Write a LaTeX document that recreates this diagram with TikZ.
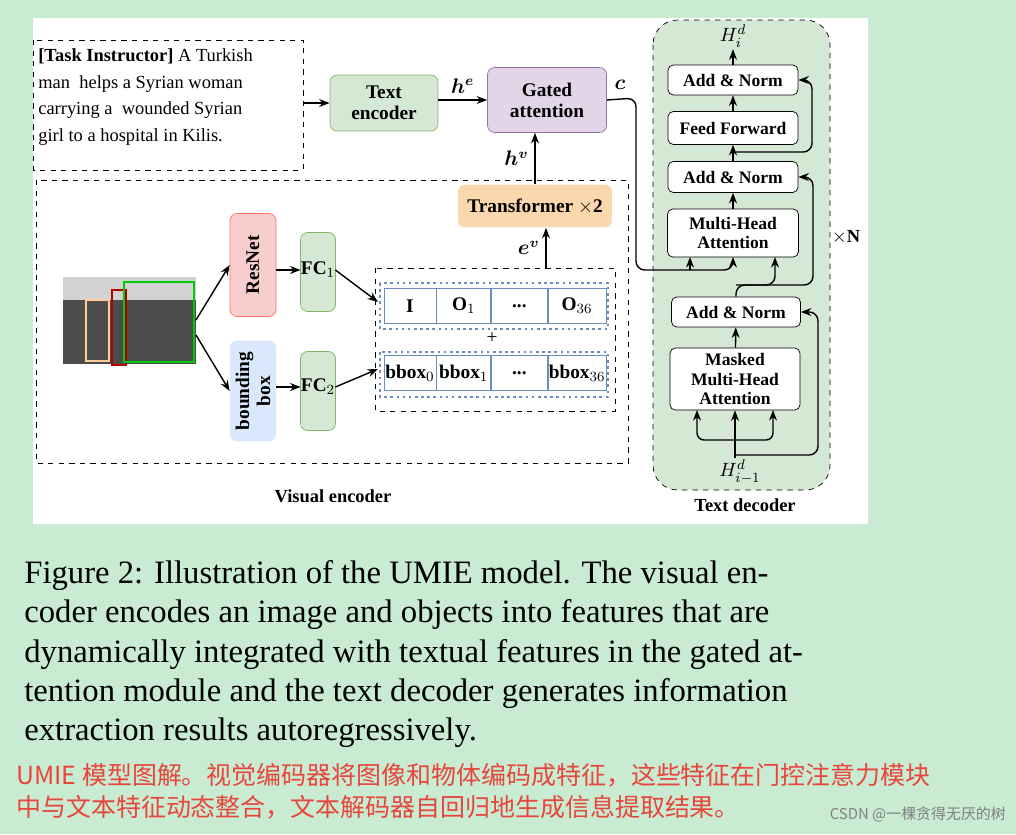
\documentclass[tikz,border=0pt]{standalone}
\usepackage{amsmath,bm}
\usepackage{fontspec}
\setmainfont{Liberation Serif}
\newfontfamily\cjk{Noto Sans CJK SC}
\usetikzlibrary{arrows.meta,positioning}
\definecolor{bggreen}{HTML}{C8EBD1}
\definecolor{gfill}{HTML}{D5E8D4}
\definecolor{gdraw}{HTML}{82B366}
\definecolor{pfill}{HTML}{E1D5E7}
\definecolor{pdraw}{HTML}{9673A6}
\definecolor{ofill}{HTML}{FAD7AC}
\definecolor{rfill}{HTML}{F8CECC}
\definecolor{rdraw}{HTML}{F8766A}
\definecolor{bfill}{HTML}{DAE8FC}
\definecolor{cellc}{HTML}{6C8EBF}
\definecolor{cnred}{HTML}{E8453C}
\tikzset{
  px/.style={x=0.02cm, y=-0.02cm},
  blk/.style={rounded corners=4pt, font=\bfseries\fontsize{11}{12}\selectfont, align=center, inner sep=0pt},
  dec/.style={draw, fill=white, rounded corners=3pt, font=\bfseries\fontsize{10}{11}\selectfont, align=center, inner sep=0pt},
  cell/.style={draw=cellc, minimum height=0.7cm, font=\bfseries\fontsize{11}{12}\selectfont, inner sep=0pt},
  arr/.style={-{Stealth[length=6pt]}, thick},
  lab/.style={font=\bfseries\itshape\fontsize{12}{12}\selectfont},
}
\begin{document}
\begin{tikzpicture}[px]
  % page
  \fill[bggreen] (0,0) rectangle (1016,834);
  \fill[white] (33,18) rectangle (868,524);

  % task instructor
  \draw[dashed] (33,40) rectangle (303,170);
  \node[anchor=north west, align=left, inner sep=0pt,
        font=\fontsize{10.5}{15.3}\selectfont] (task) at (38,48)
    {\textbf{[Task Instructor]} A Turkish\\man \ helps a Syrian woman\\carrying a \ wounded Syrian\\girl to a hospital in Kilis.};
  \coordinate (taske) at (303,103);

  % text side
  \node[blk, draw=gdraw, fill=gfill, minimum width=2.16cm, minimum height=1.12cm] (tenc) at (384,103) {Text\\encoder};
  \node[blk, draw=pdraw, fill=pfill, minimum width=2.38cm, minimum height=1.3cm] (gate) at (547,100) {Gated\\attention};
  \draw[arr] (taske) -- (tenc.west |- taske);
  \draw[arr] (tenc.east |- gate) -- (gate.west) node[lab, midway, above] {$\bm{h^e}$};
  \node[lab] at (620,85) {$\bm{c}$};

  % visual encoder
  \draw[dashed] (36,180) rectangle (628,463);
  \node[font=\bfseries\fontsize{10.5}{12}\selectfont] at (333,496) {Visual encoder};
  \node[blk, fill=ofill, minimum width=3.08cm, minimum height=0.86cm] (trans) at (535,206) {Transformer $\times$2};
  \draw[arr] (trans.north) -- (trans.north |- gate.south) node[lab, midway, left] {$\bm{h^v}$};

  % picture
  \fill[gray!60!black] (63,277) rectangle (196,364);
  \fill[gray!35] (63,277) rectangle (196,300);
  \draw[orange!40, thick] (86,300) rectangle (109,361);
  \draw[red!70!black, thick] (112,290) rectangle (126,365);
  \draw[green!80!black, thick] (124,282) rectangle (194,362);
  \coordinate (img1) at (196,320);
  \coordinate (img2) at (196,335);

  \node[blk, draw=rdraw, fill=rfill, minimum width=0.92cm, minimum height=2.06cm] (resnet) at (253,265) {};
  \node[rotate=90, blk] at (resnet) {ResNet};
  \node[blk, fill=bfill, minimum width=0.92cm, minimum height=2.02cm] (bbox) at (253,391) {};
  \node[rotate=90, blk] at (bbox) {bounding\\box};
  \node[blk, draw=gdraw, fill=gfill, minimum width=0.7cm, minimum height=1.58cm] (fc1) at (318,272) {};
  \node[blk, draw=gdraw, fill=gfill, minimum width=0.7cm, minimum height=1.58cm] (fc2) at (318,391) {};
  \node[blk] (fc1t) at (318,270) {FC$_1$};
  \node[blk] (fc2t) at (318,387) {FC$_2$};
  \draw[arr] (img1) -- (resnet.west);
  \draw[arr] (img2) -- (bbox.west);
  \draw[arr] (resnet.east |- fc1t) -- (fc1t.west);
  \draw[arr] (bbox.east |- fc2t) -- (fc2t.west);

  % features
  \draw[dashed] (375,268) rectangle (615,411);
  \draw[cellc, line width=1.5pt, dotted] (380,283) rectangle (608,329);
  \draw[cellc, line width=1.5pt, dotted] (380,352) rectangle (608,397);
  \node[cell, minimum width=1.04cm] (ci) at (410,306) {I};
  \node[cell, minimum width=1.08cm, right=0pt of ci] (co1) {O$_1$};
  \node[cell, minimum width=1.12cm, right=0pt of co1] (cd1) {...};
  \node[cell, minimum width=1.16cm, right=0pt of cd1] (co36) {O$_{36}$};
  \node[cell, minimum width=1.04cm] (cb0) at (410,373) {bbox$_0$};
  \node[cell, minimum width=1.08cm, right=0pt of cb0] (cb1) {bbox$_1$};
  \node[cell, minimum width=1.12cm, right=0pt of cb1] (cd2) {...};
  \node[cell, minimum width=1.16cm, right=0pt of cd2] (cb36) {bbox$_{36}$};
  \node[font=\fontsize{11}{11}\selectfont] (plus) at (492,338) {+};
  \coordinate (row1) at (378,302);
  \coordinate (row2) at (378,369);
  \coordinate (feat) at (546,268);
  \draw[arr] (fc1t.east) -- (row1);
  \draw[arr] (fc2t.east) -- (row2);
  \draw[arr] (feat) -- (feat |- trans.south) node[lab, midway, left] {$\bm{e^v}$};

  % text decoder
  \draw[dashed, fill=gfill, rounded corners=14pt] (653,20) rectangle (830,490);
  \node[font=\bfseries\fontsize{10.5}{12}\selectfont] at (745,505) {Text decoder};
  \node[font=\bfseries\fontsize{10.5}{12}\selectfont] at (846,237) {$\times$N};
  \node[font=\fontsize{11}{11}\selectfont, inner sep=1pt] (hout) at (733,36) {$H_i^d$};
  \node[font=\fontsize{11}{11}\selectfont, inner sep=1pt] (hin) at (740,472) {$H_{i-1}^d$};
  \node[dec, minimum width=2.6cm, minimum height=0.6cm] (an3) at (733,80) {Add \& Norm};
  \node[dec, minimum width=2.6cm, minimum height=0.66cm] (ff) at (733,128) {Feed Forward};
  \node[dec, minimum width=2.6cm, minimum height=0.62cm] (an2) at (733,177) {Add \& Norm};
  \node[dec, minimum width=2.62cm, minimum height=0.96cm] (mha) at (733,233) {Multi-Head\\Attention};
  \node[dec, minimum width=2.58cm, minimum height=0.6cm] (an1) at (736,312) {Add \& Norm};
  \node[dec, minimum width=2.6cm, minimum height=1.24cm] (mmha) at (735,379) {Masked\\Multi-Head\\Attention};

  \draw[arr] (an3) -- (hout);
  \draw[arr] (ff) -- (an3);
  \draw[arr] (an2) -- (ff);
  \draw[arr] (mha) -- (an2);
  \draw[arr] (mmha) -- (an1);
  \draw[arr] (hin.north -| mmha) -- (mmha.south);
  \draw[arr, rounded corners=4pt] (mmha.south |- 0,440) -| (697,410);
  \draw[arr, rounded corners=4pt] (mmha.south |- 0,440) -| (773,410);
  \draw[arr, rounded corners=5pt] (mmha.south |- 0,455) -| (818,312) -- (an1.east);
  \draw[arr, rounded corners=5pt] (gate.east) -- (636,98) |- (733,270) -- (733,257);
  \draw[arr] (690,270) -- (690,257);
  \draw[arr, rounded corners=5pt] (an1.north) -- (736,285) -| (775,257);
  \draw[arr, rounded corners=5pt] (736,285) -| (813,177) -- (an2.east);
  \draw[arr, rounded corners=5pt] (733,152) -| (812,80) -- (an3.east);

  % caption
  \node[anchor=north west, text width=17.1cm, align=justify, inner sep=0pt,
        font=\fontsize{18.6}{22.4}\selectfont] (cap) at (24,560)
    {Figure 2: Illustration of the UMIE model. The visual en-\\coder encodes an image and objects into features that are\\dynamically integrated with textual features in the gated at-\\tention module and the text decoder generates information\\extraction results autoregressively.};
  \node[anchor=north west, align=left, inner sep=0pt, text=cnred,
        font=\cjk\fontsize{14.2}{18.2}\selectfont] (cn) at (16,763)
    {UMIE 模型图解。视觉编码器将图像和物体编码成特征，这些特征在门控注意力模块\\中与文本特征动态整合，文本解码器自回归地生成信息提取结果。};
  \node[anchor=east, text=gray, font=\cjk\fontsize{8.5}{9}\selectfont] (mark) at (1012,814) {CSDN @一棵贪得无厌的树};
\end{tikzpicture}
\end{document}
